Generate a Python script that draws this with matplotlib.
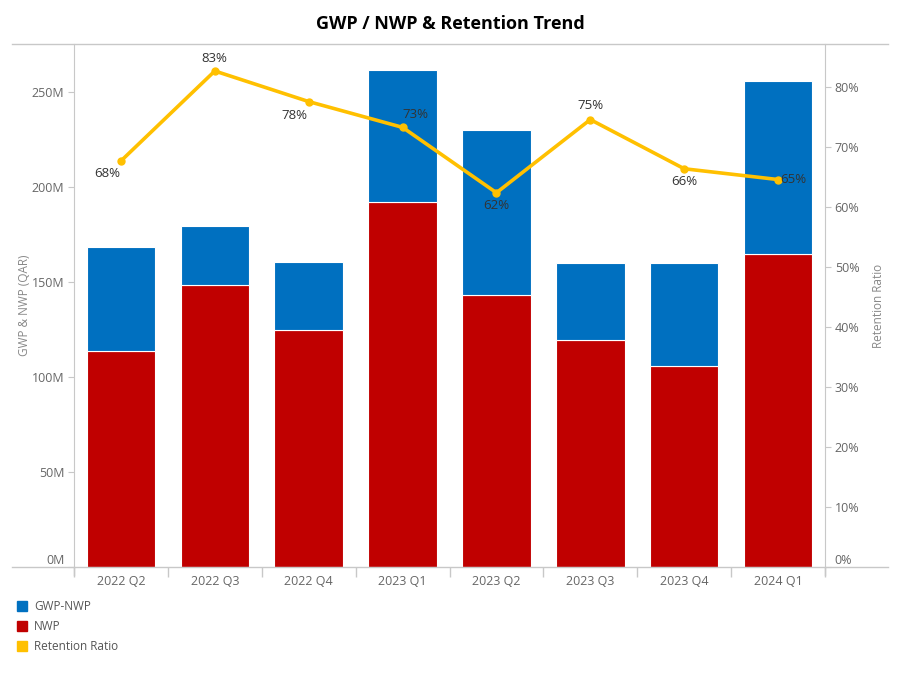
import matplotlib.pyplot as plt
from matplotlib.patches import Rectangle
from matplotlib.lines import Line2D
from matplotlib.ticker import FuncFormatter

plt.rcParams['font.family'] = ['Open Sans', 'DejaVu Sans']

# data
quarters = ['2022 Q2', '2022 Q3', '2022 Q4', '2023 Q1', '2023 Q2', '2023 Q3', '2023 Q4', '2024 Q1']
gwp = [168.4, 179.5, 160.5, 261.6, 230.0, 160.0, 160.0, 255.8]     # M QAR
nwp = [113.7, 148.4, 124.7, 191.9, 143.2, 119.5, 105.8, 164.9]     # M QAR
retention = [67.7, 82.7, 77.6, 73.3, 62.4, 74.6, 66.4, 64.6]       # %
series_names = ['GWP-NWP', 'NWP', 'Retention Ratio']

gwp_minus_nwp = [g - n for g, n in zip(gwp, nwp)]

# colours
BLUE = '#0070C0'
RED = '#C00000'
GOLD = '#FFC000'
GRID = '#c8c8c8'
TICK = '#666666'

# label offsets in points (dx, dy), per point
label_off = [(-10, -9), (0, 9), (-10, -10), (9, 9), (0, -9), (0, 10), (0, -9), (11, 0)]

fig = plt.figure(figsize=(9, 7), dpi=100)
ax = fig.add_axes([74 / 900, 1 - 567 / 700, (825 - 74) / 900, (567 - 44) / 700])

x = list(range(len(quarters)))
ax.bar(x, nwp, width=0.73, color=RED, edgecolor='white', linewidth=0.8, zorder=2)
ax.bar(x, gwp_minus_nwp, bottom=nwp, width=0.73, color=BLUE, edgecolor='white', linewidth=0.8, zorder=2)

ax.set_xlim(-0.5, len(quarters) - 0.5)
ax.set_ylim(0, 275.3)
ax.set_yticks([0, 50, 100, 150, 200, 250])
ax.yaxis.set_major_formatter(FuncFormatter(lambda v, p: f'{v:.0f}M'))
ax.set_xticks(x)
ax.set_xticklabels(quarters)
ax.tick_params(axis='x', which='major', length=0, pad=6, labelsize=9, labelcolor=TICK)
ax.set_xticks([i - 0.5 for i in range(len(quarters) + 1)], minor=True)
ax.tick_params(axis='x', which='minor', length=7, color=GRID, width=1)
ax.tick_params(axis='y', length=4, color=GRID, labelsize=9, labelcolor=TICK, pad=3)
for lab in ax.get_yticklabels():
    if lab.get_text() == '0M':
        lab.set_va('bottom')

for side in ['top', 'right']:
    ax.spines[side].set_visible(False)
ax.spines['left'].set_color(GRID)
ax.spines['bottom'].set_visible(False)

ax.set_ylabel('GWP & NWP (QAR)', color='#888888', fontsize=8.5)
ax.yaxis.set_label_coords(-0.057, 0.5)

ax2 = ax.twinx()
ax2.set_ylim(0, 87.2)
ax2.plot(x, retention, color=GOLD, linewidth=2.6, marker='o', markersize=5, zorder=5)
for i, v in enumerate(retention):
    dx, dy = label_off[i]
    ax2.annotate(f'{v:.0f}%', (i, v), xytext=(dx, dy), textcoords='offset points',
                 ha='center', va='center', fontsize=9.5, color='#333333', zorder=6)
ax2.set_yticks(range(0, 90, 10))
ax2.yaxis.set_major_formatter(FuncFormatter(lambda v, p: f'{v:.0f}%'))
ax2.tick_params(axis='y', length=4, color=GRID, labelsize=9, labelcolor=TICK, pad=3)
for lab in ax2.get_yticklabels():
    if lab.get_text() == '0%':
        lab.set_va('bottom')
for side in ['top', 'left', 'bottom']:
    ax2.spines[side].set_visible(False)
ax2.spines['right'].set_color(GRID)
ax2.set_ylabel('Retention Ratio', color='#888888', fontsize=8.5)
ax2.yaxis.set_label_coords(1.062, 0.5)

# full width rules at top and bottom of the plot area
for yy in [44, 567]:
    fig.add_artist(Line2D([12 / 900, 888 / 900], [1 - yy / 700, 1 - yy / 700],
                          color=GRID, linewidth=1, transform=fig.transFigure))
# spines extend a bit below the bottom rule
for xx in [74, 825]:
    fig.add_artist(Line2D([xx / 900, xx / 900], [1 - 567 / 700, 1 - 575 / 700],
                          color=GRID, linewidth=1, transform=fig.transFigure))

fig.text(0.5, 1 - 24 / 700, 'GWP / NWP & Retention Trend', ha='center', va='center',
         fontsize=13, fontweight='bold', color='#000000')

# legend
for k, (name, col) in enumerate(zip(series_names, [BLUE, RED, GOLD])):
    yc = 606 + 20 * k
    fig.add_artist(Rectangle((17 / 900, 1 - (yc + 5) / 700), 10 / 900, 10 / 700,
                             color=col, transform=fig.transFigure))
    fig.text(34 / 900, 1 - yc / 700, name, ha='left', va='center', fontsize=8.5, color='#555555')

fig.savefig('out.png', dpi=100)
